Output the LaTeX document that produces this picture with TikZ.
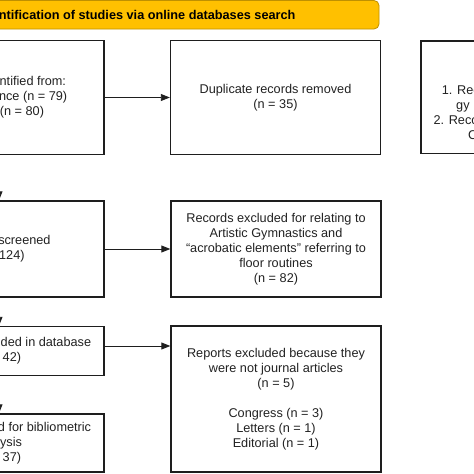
\documentclass[tikz,border=0pt]{standalone}
\usepackage{fontspec}
\setmainfont{Liberation Sans}
\usetikzlibrary{positioning,arrows.meta}
\definecolor{prbanner}{HTML}{FFC000}
\definecolor{prbannerline}{HTML}{BF9000}
\definecolor{prline}{HTML}{1E1E1E}
\definecolor{prtext}{HTML}{222222}
\tikzset{
  flowbox/.style={draw=prline, line width=1.4pt, fill=white, align=center,
                  inner sep=0pt, minimum width=210pt, text=prtext,
                  font=\fontsize{12.7}{15}\selectfont},
  banner/.style ={draw=prbannerline, fill=prbanner, rounded corners=5pt,
                  line width=0.8pt, minimum width=482pt, minimum height=28.5pt,
                  inner sep=0pt, font=\fontsize{12.7}{15}\selectfont\bfseries},
  frag/.style   ={anchor=base west, inner sep=0pt, text=prtext,
                  font=\fontsize{12.7}{15}\selectfont},
  flow/.style   ={-{Triangle[length=9pt,width=7pt]}, draw=prline, line width=0.9pt},
}
\begin{document}
\begin{tikzpicture}[x=1pt,y=-1pt]
  \useasboundingbox (0,0) rectangle (474,474);
  \clip (0,0) rectangle (474,474);

  % banner
  \node[banner] (idbar) at (138,14.75) {Identification of studies via online databases search};

  % main column
  \node[flowbox, minimum height=113.5pt] (ident) at (-1,97.5)
    {Records identified from:\\Web of Science (n = 79)\\Scopus (n = 80)};
  \node[flowbox, minimum height=96pt] (screen) at (-1,249)
    {Records screened\\(n = 124)};
  \node[flowbox, minimum height=49pt] (incdb) at (-1,351)
    {Documents included in database\\(n = 42)};
  \node[flowbox, minimum height=58pt] (incbib) at (-1,443)
    {Records included for bibliometric\\analysis\\(n = 37)};

  % exclusions
  \node[flowbox, minimum height=113.5pt] (dup) at (275.5,97.5)
    {Duplicate records removed\\(n = 35)};
  \node[flowbox, minimum height=96pt] (exfloor) at (276,249)
    {Records excluded for relating to\\Artistic Gymnastics and\\“acrobatic elements” referring to\\floor routines\\(n = 82)};
  \node[flowbox, minimum height=146pt] (exjour) at (276,399)
    {Reports excluded because they\\were not journal articles\\(n = 5)\\[15pt]Congress (n = 3)\\Letters (n = 1)\\Editorial (n = 1)};

  % right box, cut by the edge
  \node[flowbox, minimum height=112.5pt] (elig) at (526,97.25) {};
  \node[frag] (eliga) at (441.7,94) {1. Rec};
  \node[frag] (eligb) at (456,109) {gy};
  \node[frag] (eligc) at (433.3,124) {2. Reco};
  \node[frag] (eligd) at (468,139) {C};

  % connectors
  \draw[flow] (ident) -- (dup);
  \draw[flow] (screen) -- (exfloor);
  \draw[flow] ([yshift=5pt]incdb.east) -- ([yshift=5pt]incdb.east -| exjour.west);
  \draw[flow] (ident) -- (screen);
  \draw[flow] (screen) -- (incdb);
  \draw[flow] (incdb) -- (incbib);
\end{tikzpicture}
\end{document}
